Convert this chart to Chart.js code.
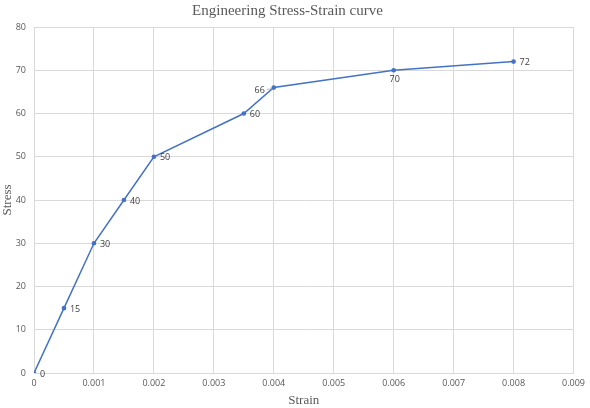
<!DOCTYPE html>
<html>
<head>
<meta charset="utf-8">
<script src="https://cdn.jsdelivr.net/npm/chart.js@4"></script>
<style>
  html, body { margin: 0; padding: 0; background: #fff; }
  #wrap { width: 590px; height: 408px; }
</style>
</head>
<body>
<div id="wrap"><canvas id="myChart"></canvas></div>
<script>
const strain = [0, 0.0005, 0.001, 0.0015, 0.002, 0.0035, 0.004, 0.006, 0.008];
const stress = [0, 15, 30, 40, 50, 60, 66, 70, 72];
// where each value label sits relative to its point
const labelSide = ["right", "right", "right", "right", "right", "right", "left", "below", "right"];

const points = strain.map((s, i) => ({ x: s, y: stress[i] }));

const valueLabels = {
  id: "valueLabels",
  afterDatasetsDraw(chart) {
    const ctx = chart.ctx;
    const meta = chart.getDatasetMeta(0);
    ctx.save();
    ctx.font = "9px 'Open Sans', 'Noto Sans', sans-serif";
    ctx.fillStyle = "#404040";
    meta.data.forEach((pt, i) => {
      const txt = String(stress[i]);
      const side = labelSide[i];
      if (side === "right") {
        ctx.textAlign = "left";
        ctx.textBaseline = "middle";
        ctx.fillText(txt, pt.x + 6, pt.y + 1);
      } else if (side === "below") {
        ctx.textAlign = "center";
        ctx.textBaseline = "top";
        ctx.fillText(txt, pt.x + 1, pt.y + 5);
      } else {
        // left with a small leader line
        ctx.strokeStyle = "#a6a6a6";
        ctx.lineWidth = 0.8;
        ctx.beginPath();
        ctx.moveTo(pt.x - 2, pt.y + 1);
        ctx.lineTo(pt.x - 7, pt.y + 2);
        ctx.stroke();
        ctx.textAlign = "right";
        ctx.textBaseline = "middle";
        ctx.fillText(txt, pt.x - 9, pt.y + 3);
      }
    });
    ctx.restore();
  }
};

new Chart("myChart", {
  type: "scatter",
  data: {
    datasets: [{
      data: points,
      showLine: true,
      borderColor: "#4472c4",
      backgroundColor: "#4472c4",
      borderWidth: 1.5,
      pointRadius: 1.6,
      pointHoverRadius: 1.6,
      fill: false
    }]
  },
  options: {
    responsive: true,
    maintainAspectRatio: false,
    animation: false,
    layout: { padding: { left: 0, right: 15, top: 0, bottom: 0 } },
    plugins: {
      legend: { display: false },
      tooltip: { enabled: false },
      title: {
        display: true,
        text: "Engineering Stress-Strain curve",
        color: "#595959",
        font: { family: "'Liberation Serif', 'Times New Roman', serif", size: 15, weight: "normal" },
        padding: { top: 2, bottom: 7 }
      }
    },
    scales: {
      x: {
        type: "linear",
        min: 0,
        max: 0.009,
        ticks: {
          stepSize: 0.001,
          color: "#595959",
          font: { family: "'Open Sans', 'Noto Sans', sans-serif", size: 9 },
          padding: 5,
          maxRotation: 0,
          callback: v => String(Math.round(v * 1000) / 1000)
        },
        grid: { color: "#d9d9d9", drawTicks: false },
        border: { color: "#d9d9d9" },
        title: {
          display: true,
          text: "Strain",
          color: "#595959",
          font: { family: "'Liberation Serif', 'Times New Roman', serif", size: 13 },
          padding: { top: 3, bottom: 0 }
        },
        afterFit(scale) { scale.height = 35; }
      },
      y: {
        min: 0,
        max: 80,
        ticks: {
          stepSize: 10,
          color: "#595959",
          font: { family: "'Open Sans', 'Noto Sans', sans-serif", size: 9 },
          padding: 8
        },
        grid: { color: "#d9d9d9", drawTicks: false },
        border: { color: "#d9d9d9" },
        title: {
          display: true,
          text: "Stress",
          color: "#595959",
          font: { family: "'Liberation Serif', 'Times New Roman', serif", size: 13 },
          padding: { top: 0, bottom: 0 }
        },
        afterFit(scale) { scale.width = 34; }
      }
    }
  },
  plugins: [valueLabels]
});
</script>
</body>
</html>
